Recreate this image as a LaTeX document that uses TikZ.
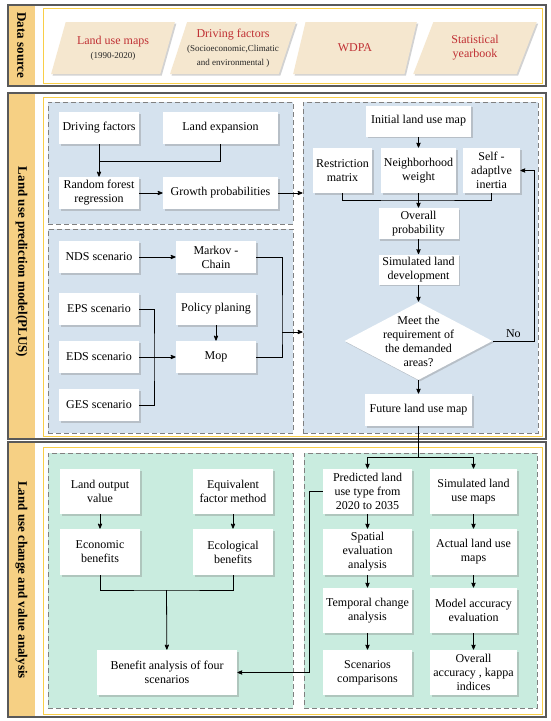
\documentclass[tikz,border=0pt]{standalone}
\usepackage{fontspec}
\setmainfont{Liberation Serif}
\usepackage{tikz}
\usetikzlibrary{arrows,shapes.geometric,shadows}

\definecolor{bandorange}{RGB}{246,208,132}
\definecolor{frameyellow}{RGB}{249,206,72}
\definecolor{parafill}{RGB}{245,231,207}
\definecolor{paratext}{RGB}{192,48,52}
\definecolor{planblue}{RGB}{213,226,238}
\definecolor{planmint}{RGB}{201,236,223}

\newcommand{\srcnote}[1]{{\fontsize{9}{14}\selectfont\color{black!85}#1}}

\begin{document}
\begin{tikzpicture}[>=stealth',x=1pt,y=-1pt,line width=0.8pt,
                    font=\fontsize{12}{14}\selectfont]
                \tikzstyle{section}=[draw=black!65,line width=1.3pt,fill=white]
                \tikzstyle{band}=[fill=bandorange,draw=none]
                \tikzstyle{frame}=[draw=frameyellow,line width=0.8pt]
                \tikzstyle{panel}=[draw=black!50,dash pattern=on 5pt off 3pt,line width=0.9pt,inner sep=0pt]
                \tikzstyle{bandlabel}=[rotate=-90,font={\fontsize{13}{15}\selectfont\bfseries}]
                \tikzstyle{source}=[trapezium,trapezium left angle=67,trapezium right angle=113,
                        trapezium stretches=true,fill=parafill,text=paratext,align=center,
                        minimum width=124pt,minimum height=52pt,inner xsep=0pt,inner ysep=1pt,
                        drop shadow={shadow xshift=1.5pt,shadow yshift=-1.5pt,opacity=0.35}]
                \tikzstyle{box}=[fill=white,align=center,inner sep=1pt,minimum width=80pt,minimum height=32pt,
                        drop shadow={shadow xshift=1.5pt,shadow yshift=-1.5pt,opacity=0.35}]
                \tikzstyle{decision}=[diamond,fill=white,minimum width=148pt,minimum height=78pt,inner sep=0pt,
                        drop shadow={shadow xshift=1.5pt,shadow yshift=-1.5pt,opacity=0.35}]

                \useasboundingbox (0,0) rectangle (550,721);

                % sections
                \draw[section] (8,5) rectangle (546,86);
                \draw[section] (8,93) rectangle (546,439);
                \draw[section] (8,442) rectangle (546,717);
                \fill[band] (8.7,5.7) rectangle (35,85.3);
                \fill[band] (8.7,93.7) rectangle (35,438.3);
                \fill[band] (8.7,442.7) rectangle (35,716.3);
                \draw[frame] (43,8) rectangle (542,83);
                \draw[frame] (43,97) rectangle (542,436);
                \draw[frame] (43,447) rectangle (542,714);

                \node[bandlabel] (lbdata) at (21.5,45.5) {Data source};
                \node[bandlabel] (lbplus) at (21.5,262) {Land use prediction model(PLUS)};
                \node[bandlabel] (lbvalue) at (21.5,580) {Land use change and value analysis};

                % dashed panels
                \node[panel,fill=planblue,minimum width=245pt,minimum height=122pt] (pA) at (170.5,163) {};
                \node[panel,fill=planblue,minimum width=245pt,minimum height=204pt] (pB) at (170.5,331) {};
                \node[panel,fill=planblue,minimum width=235pt,minimum height=331pt] (pC) at (420.5,267.5) {};
                \node[panel,fill=planmint,minimum width=245pt,minimum height=255pt] (pD) at (170.5,580.5) {};
                \node[panel,fill=planmint,minimum width=233pt,minimum height=255pt] (pE) at (420.5,580.5) {};

                % data source
                \node[source] (lum)  at (113,48) {Land use maps\\\srcnote{(1990-2020)}};
                \node[source] (drv)  at (233,48) {Driving factors\\\srcnote{(Socioeconomic,Climatic}\\\srcnote{and environmental )}};
                \node[source] (wdpa) at (355,48) {WDPA};
                \node[source] (syb)  at (475,48) {Statistical\\yearbook};

                % growth probabilities
                \node[box]                                     (df) at (99,128) {Driving factors};
                \node[box,minimum width=115pt,node distance=121.5pt] (le) [right of=df] {Land expansion};
                \node[box,node distance=65pt]                  (rf) [below of=df] {Random forest\\regression};
                \node[box,minimum width=115pt,node distance=121.5pt] (gp) [right of=rf] {Growth probabilities};

                % scenarios
                \node[box]                      (nds) at (99,257) {NDS scenario};
                \node[box,node distance=117pt]  (mc)  [right of=nds] {Markov -\\Chain};
                \node[box,node distance=52pt]   (eps) [below of=nds] {EPS scenario};
                \node[box,node distance=48pt]   (eds) [below of=eps] {EDS scenario};
                \node[box,node distance=48pt]   (ges) [below of=eds] {GES scenario};
                \node[box,node distance=52pt]   (pp)  [below of=mc]  {Policy planing};
                \node[box,node distance=48pt]   (mop) [below of=pp]  {Mop};

                % CA model
                \node[box,minimum width=105pt,minimum height=31pt] (ilum) at (418.5,121) {Initial land use map};
                \node[box,minimum width=75pt,minimum height=45pt,node distance=49.5pt] (nw) [below of=ilum] {Neighborhood\\weight};
                \node[box,minimum width=59pt,minimum height=45pt,node distance=76pt] (rm) [left of=nw] {Restriction\\matrix};
                \node[box,minimum width=57pt,minimum height=45pt,node distance=73pt] (sai) [right of=nw] {Self -\\adaptlve\\inertia};
                \node[box,minimum height=31pt,node distance=53pt] (op) [below of=nw] {Overall\\probability};
                \node[box,minimum height=30pt,node distance=46pt] (sld) [below of=op] {Simulated land\\development};
                \node[decision,node distance=71.5pt,
                      label={[align=center]center:Meet the\\requirement of\\the demanded\\areas?}] (dm) [below of=sld] {};
                \node[box,minimum width=107pt,node distance=69pt] (flum) [below of=dm] {Future land use map};

                % benefits
                \node[box,minimum height=45pt] (lov) at (100,491.5) {Land output\\value};
                \node[box,minimum height=45pt,node distance=133pt] (efm) [right of=lov] {Equivalent\\factor method};
                \node[box,minimum height=46pt,node distance=60.5pt] (eb)  [below of=lov] {Economic\\benefits};
                \node[box,minimum height=46pt,node distance=60.5pt] (ecb) [below of=efm] {Ecological\\benefits};
                \node[box,minimum width=140pt,minimum height=45pt] (ba) at (167,672.5) {Benefit analysis of four\\scenarios};

                % evaluation
                \node[box,minimum width=89pt,minimum height=45pt] (pl) at (367.5,491.5) {Predicted land\\use type from\\2020 to 2035};
                \node[box,minimum width=87pt,minimum height=45pt,node distance=106pt] (slm) [right of=pl] {Simulated land\\use maps};
                \node[box,minimum width=89pt,minimum height=46pt,node distance=60.5pt] (sea) [below of=pl]  {Spatial\\evaluation\\analysis};
                \node[box,minimum width=89pt,minimum height=45pt,node distance=58.5pt] (tca) [below of=sea] {Temporal change\\analysis};
                \node[box,minimum width=89pt,minimum height=45pt,node distance=62pt]   (sc)  [below of=tca] {Scenarios\\comparisons};
                \node[box,minimum width=87pt,minimum height=46pt,node distance=60.5pt] (alm) [below of=slm] {Actual land use\\maps};
                \node[box,minimum width=87pt,minimum height=45pt,node distance=58.5pt] (mae) [below of=alm] {Model accuracy\\evaluation};
                \node[box,minimum width=87pt,minimum height=45pt,node distance=62pt]   (oa)  [below of=mae] {Overall\\accuracy , kappa\\indices};

                \coordinate (j1) at (99,161);
                \coordinate (j2) at (282,332);
                \coordinate (j3) at (154,357);
                \coordinate (j4) at (418.5,200);
                \coordinate (j5) at (418.5,457);
                \coordinate (j6) at (166.5,590);

                \draw[->] (df) -- (rf);
                \draw (le.south) |- (j1);
                \draw[->] (rf) -- (gp);
                \draw[->] (gp) -- (gp -| pC.west);

                \draw[->] (nds) -- (mc);
                \draw (mc.east) -| (j2) |- (mop.east);
                \draw[->] (j2) -- (j2 -| pC.west);
                \draw (eps.east) -| (j3) |- (ges.east);
                \draw[->] (eds) -- (mop);
                \draw[->] (pp) -- (mop);

                \draw[->] (ilum) -- (nw);
                \draw (rm.south) |- (j4) -| (sai.south);
                \draw[->] (nw) -- (op);
                \draw[->] (op) -- (sld);
                \draw[->] (sld) -- (dm);
                \draw[->] (dm) -- (flum);
                \draw[->] (dm.east) -- node[above] {No} ++(41,0) |- (sai.east);
                \draw (flum) -- (j5);
                \draw[->] (j5) -| (pl);
                \draw[->] (j5) -| (slm);

                \draw[->] (lov) -- (eb);
                \draw[->] (efm) -- (ecb);
                \draw (eb.south) |- (j6) -| (ecb.south);
                \draw[->] (j6) -- (ba);

                \draw[->] (pl) -- (sea);
                \draw[->] (sea) -- (tca);
                \draw[->] (tca) -- (sc);
                \draw[->] (slm) -- (alm);
                \draw[->] (alm) -- (mae);
                \draw[->] (mae) -- (oa);
                \draw[->] (pl.west) -- ++(-13,0) |- (ba.east);
            \end{tikzpicture}
\end{document}
